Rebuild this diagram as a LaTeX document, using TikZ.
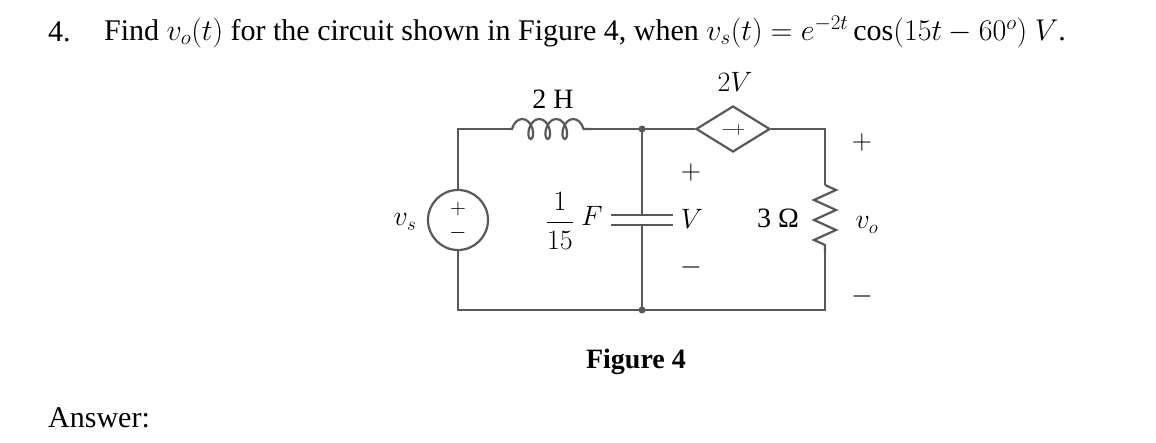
\documentclass[tikz,border=0pt]{standalone}
\usepackage{amsmath}
\usepackage{fix-cm}
\usepackage{fontspec}
\setmainfont{Liberation Serif}
\DeclareMathSizes{28}{28}{19}{14}
\DeclareMathSizes{30}{30}{21}{15}
\usetikzlibrary{decorations.pathmorphing,shapes.geometric}
\begin{document}
\begin{tikzpicture}[x=1pt,y=-1pt,
  w/.style={line width=2.2pt,draw=black!65},
  lbl/.style={font=\fontsize{28}{32}\selectfont,inner sep=0},
  big/.style={font=\fontsize{30}{34}\selectfont,inner sep=0},
  dot/.style={circle,fill=black!65,inner sep=0,minimum size=7pt}]
\useasboundingbox (0,0) rectangle (1156,443);
\node[big,anchor=west] (num) at (48,32) {4.};
\node[big,anchor=west] (title) at (104,32) {Find $v_o(t)$ for the circuit shown in Figure 4, when $v_s(t)=e^{-2t}\cos(15t-60^o)\ V$.};
\node[big,anchor=west] (ans) at (48,418) {Answer:};
\node[big,font=\fontsize{28}{32}\selectfont\bfseries] (fig) at (636,362) {Figure 4};
% nodes
\coordinate (tl) at (458,129); \coordinate (bl) at (458,310);
\coordinate (tm) at (642,129); \coordinate (bm) at (642,310);
\coordinate (tr) at (825,129); \coordinate (br) at (825,310);
\node[circle,w,minimum size=60pt,inner sep=0] (src) at (458,220) {};
\node[lbl,font=\fontsize{22}{24}\selectfont] at (458,209) {$+$};
\node[lbl,font=\fontsize{22}{24}\selectfont] at (458,233) {$-$};
\coordinate (l1) at (510,129); \coordinate (l2) at (592,129);
\node[diamond,w,minimum width=74pt,minimum height=46pt,inner sep=0] (dep) at (733,129) {};
\node[lbl,font=\fontsize{18}{20}\selectfont] at (733,130) {$-\!+$};
\coordinate (c1) at (642,215); \coordinate (c2) at (642,225);
\coordinate (r1) at (825,185); \coordinate (r2) at (825,253);
\draw[w] (src.north) -- (tl) -- (l1);
\draw[w] (src.south) -- (bl) -- (br) -- (r2);
\draw[w,decorate,decoration={coil,aspect=0.6,segment length=17pt,amplitude=10pt,pre length=2pt,post length=2pt}] (l1) -- (l2);
\draw[w] (l2) -- (tm) -- (dep.west);
\draw[w] (dep.east) -- (tr) -- (r1);
\draw[w,decorate,decoration={zigzag,segment length=20pt,amplitude=11pt}] (r1) -- (r2);
\draw[w] (tm) -- (c1); \draw[w] (c2) -- (bm);
\draw[w] (611,215) -- (673,215); \draw[w] (611,225) -- (673,225);
\node[dot] at (tm) {}; \node[dot] at (bm) {};
% labels
\node[lbl] at (553,99) {2 H};
\node[lbl] at (735,82) {$2V$};
\node[lbl] at (862,143) {$+$};
\node[lbl] at (862,297) {$-$};
\node[lbl] at (867,225) {$v_o$};
\node[lbl] at (778,218) {3 Ω};
\node[lbl] at (691,173) {$+$};
\node[lbl] at (692,219) {$V$};
\node[lbl] at (691,268) {$-$};
\node[lbl] at (405,222) {$v_s$};
\node[lbl] at (560,221) {$\dfrac{1}{15}$};
\node[lbl] at (592,216) {$F$};
\end{tikzpicture}
\end{document}
